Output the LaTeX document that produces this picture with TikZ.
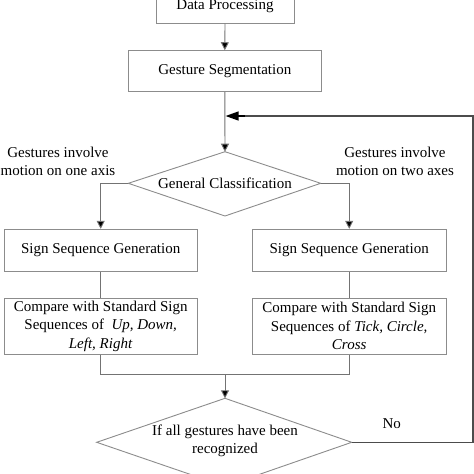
\documentclass[tikz,border=0pt]{standalone}
\usepackage{fontspec}
\setmainfont{Liberation Serif}
\usetikzlibrary{shapes.geometric,arrows.meta}
\begin{document}
\begin{tikzpicture}[x=1pt,y=-1pt,
  box/.style={draw=black!45,line width=0.9pt,rectangle,inner sep=0pt,align=center,font=\fontsize{15}{18.5}\selectfont},
  conn/.style={draw=black!55,line width=0.9pt},
  arr/.style={conn,-{Triangle[length=8pt,width=8pt,fill=black]}},
  fb/.style={draw=black!70,line width=1.6pt},
  dshape/.style={draw=black!45,line width=0.9pt},
  lbl/.style={font=\fontsize{15}{18.5}\selectfont,align=center,inner sep=0pt}]
\useasboundingbox (0,0) rectangle (474,474);
\fill[white] (0,0) rectangle (474,474);
% boxes
\node[box,minimum width=138pt,minimum height=40pt] (dp) at (225,3.3) {};
\node[font=\fontsize{15}{18.5}\selectfont,anchor=base] (dpt) at (225,9.5) {Data Processing};
\node[box,minimum width=193.7pt,minimum height=41pt] (gs) at (224.8,71.2) {Gesture Segmentation};
\coordinate (join) at (225,116);
\draw[dshape] (128.3,183.3) -- (225,151.7) -- (320.7,183.3) -- (225,216) -- cycle;
\node[lbl] (gc) at (225,183.3) {General Classification};
\coordinate (gcl) at (128.3,183.3);
\coordinate (gcr) at (320.7,183.3);
\coordinate (gct) at (225,151.7);
\node[box,minimum width=193.3pt,minimum height=42.4pt] (sl) at (100.7,250.5) {Sign Sequence Generation};
\node[box,minimum width=193.7pt,minimum height=42.4pt] (sr) at (349.2,250.5) {Sign Sequence Generation};
\node[box,minimum width=193.3pt,minimum height=55.7pt] (cl) at (100.7,326.2) {Compare with Standard Sign\\Sequences of \ \textit{Up, Down,}\\\textit{Left, Right}};
\node[box,minimum width=193.7pt,minimum height=55.7pt] (cr) at (349.2,326.2) {Compare with Standard Sign\\Sequences of \textit{Tick, Circle,}\\\textit{Cross}};
\coordinate (bj) at (225,374.3);
\draw[dshape] (96.7,442.3) -- (225,398.3) -- (351.7,442.3) -- (225,486.3) -- cycle;
\coordinate (dt) at (225,398.3);
\coordinate (dr) at (351.7,442.3);
\node[lbl] (rec) at (225,441) {If all gestures have been\\recognized};
\coordinate (fbc) at (472.7,442.3);
\coordinate (fbt) at (472.7,116);
\coordinate (fbs) at (245,116);
\coordinate (fbe) at (225.6,116);
% labels
\node[lbl] (l1) at (58,161.5) {Gestures involve\\motion on one axis};
\node[lbl] (l2) at (395,161.5) {Gestures involve\\motion on two axes};
\node[lbl] (no) at (391.7,423.3) {No};
% connectors
\draw[arr] (dp.south) -- (gs.north);
\draw[arr] (gs.south) -- (gct);
\draw[arr] (gcl) -| (sl.north);
\draw[arr] (gcr) -| (sr.north);
\draw[conn] (sl.south) -- (cl.north);
\draw[conn] (sr.south) -- (cr.north);
\draw[conn] (cl.south) |- (bj) -| (cr.south);
\draw[arr] (bj) -- (dt);
\draw[fb] (dr) -- (fbc) -- (fbt) -- (fbs);
\draw[-{Triangle[length=13pt,width=9pt]},draw=black,line width=1.4pt] (fbs) -- (fbe);
\end{tikzpicture}
\end{document}
